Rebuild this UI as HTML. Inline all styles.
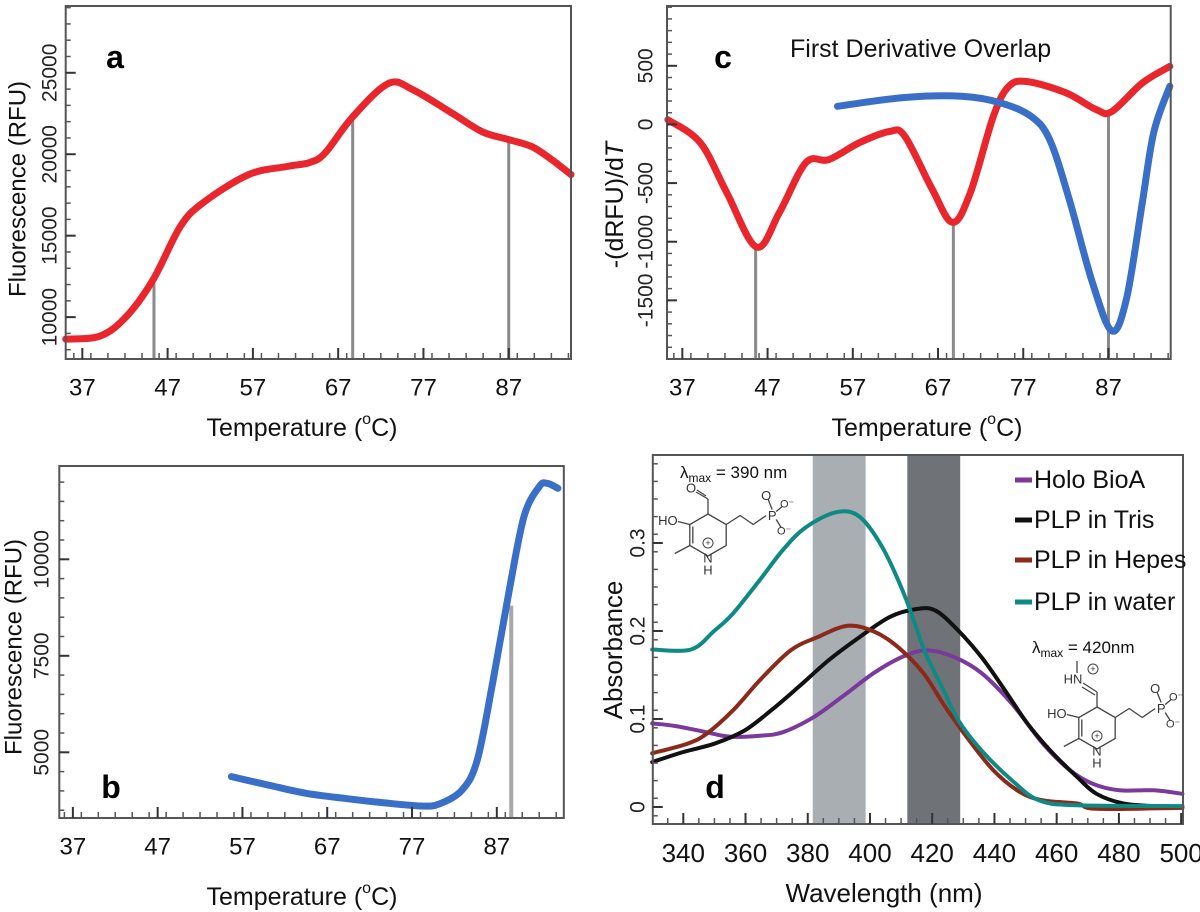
<!DOCTYPE html>
<html><head><meta charset="utf-8"><style>
body{margin:0;background:#fff;}
svg{display:block;font-family:"Liberation Sans",sans-serif;}
</style></head><body>
<svg id="fig" width="1200" height="912" viewBox="0 0 1200 912" xmlns="http://www.w3.org/2000/svg">
<g id="pa"></g>
<g id="pb"></g>
<g id="pc"></g>
<g id="pd"></g>
</svg>
<script>
// ---- Panel a data ----
const aTemps=[35.05,39.1,42.2,45.3,48.5,51.2,56.5,61,63.7,65.5,68.7,72.9,75.8,80.3,83.9,87.0,89.7,92,94.3];
const aValues=[8650,8840,10060,12300,15570,17040,18750,19250,19500,20100,22300,24350,23950,22540,21380,20900,20470,19680,18750];
const aMarkerT=[45.4,68.7,87.0];
const aMarkerTop=[12300,22200,20900];
const aXTicks=[37,47,57,67,77,87];
const aYTicks=[10000,15000,20000,25000];
// ---- Panel b data ----
const bTemps=[55.7,60.0,64.5,69.0,73.5,78.0,80.2,82.9,84.7,86.5,88.4,90.2,92.0,92.9,94.2];
const bValues=[4370,4154,3938,3808,3696,3610,3661,4024,4800,6790,9120,11100,11880,11970,11840];
const bMarkerT=[88.7];
const bMarkerTop=[8800];
const bYTicks=[5000,7500,10000];
// ---- Panel c data ----
const cRedT=[35.3,39.1,42.2,45.7,48.4,51.5,54.2,57.8,61.3,63.1,66.3,68.7,70.8,73.5,75.3,77.5,82,85.6,87.4,91,94.2];
const cRedV=[40,-155,-580,-1045,-750,-325,-300,-155,-60,-100,-550,-835,-580,70,325,365,270,125,110,355,495];
const cBlueT=[55.2,63.1,69.8,74.3,77.9,80.1,82.4,85.1,87.4,89.1,90.9,92.3,94.2];
const cBlueV=[155,230,240,185,70,-130,-640,-1345,-1760,-1490,-700,-70,325];
const cMarkerT=[45.6,68.8,87.0];
const cMarkerTop=[-1045,-835,110];
const cYTicks=[-1500,-1000,-500,0,500];
// ---- Panel d data ----
const dTicksX=[340,360,380,400,420,440,460,480,500];
const dTicksY=[0,0.1,0.2,0.3];
const dBands=[[381.6,398.6],[412,429]];
const waterNm=[330,342.5,349.9,356,364.6,372,379.4,389.2,396.6,404,411.3,417.5,423.6,428.5,435.9,445.7,454.3,466.6,500.4];
const waterAbs=[.179,.179,.2,.22,.258,.292,.318,.335,.33,.295,.239,.178,.133,.098,.064,.030,.0076,.002,.001];
const trisNm=[330,340,350,359.7,368.3,376.9,386.8,396.6,406.4,415,421.2,428.5,435.9,443.3,450.6,458,466.6,472.8,481.4,491.2,500.4];
const trisAbs=[.051,.0625,.072,.087,.11,.136,.167,.193,.216,.225,.223,.2,.17,.133,.095,.064,.034,.015,.004,.001,0];
const hepesNm=[330,341.3,347.4,356,364.6,374.5,383.1,392.9,401.5,408.9,417.2,423.6,431,439.6,448.2,455.6,466.6,472.8,500.4];
const hepesAbs=[.061,.072,.083,.11,.144,.178,.193,.206,.199,.182,.152,.117,.08,.042,.017,.0076,.004,-.002,-.001];
const holoNm=[330,337.6,347.4,354.8,364.6,372,381.8,391.7,401.5,411.3,418.7,427.3,435.9,445.7,455.6,464.2,471.5,480.1,491.2,500.4];
const holoAbs=[.095,.092,.085,.08,.081,.085,.102,.127,.153,.172,.178,.170,.152,.117,.072,.042,.0265,.019,.019,.015];
const legendLabels=["Holo BioA","PLP in Tris","PLP in Hepes","PLP in water"];

const NS="http://www.w3.org/2000/svg";
function mk(parent,tag,attrs,text){const e=document.createElementNS(NS,tag);for(const k in attrs)e.setAttribute(k,attrs[k]);if(text!==undefined)e.textContent=text;parent.appendChild(e);return e;}
function lin(d0,d1,r0,r1){return v=>r0+(v-d0)/(d1-d0)*(r1-r0);}
function smooth(pts){let d="M"+pts[0][0].toFixed(1)+","+pts[0][1].toFixed(1);for(let i=0;i<pts.length-1;i++){const p0=pts[i-1]||pts[i],p1=pts[i],p2=pts[i+1],p3=pts[i+2]||p2;const c1=[p1[0]+(p2[0]-p0[0])/6,p1[1]+(p2[1]-p0[1])/6],c2=[p2[0]-(p3[0]-p1[0])/6,p2[1]-(p3[1]-p1[1])/6];d+="C"+c1.map(v=>v.toFixed(1))+" "+c2.map(v=>v.toFixed(1))+" "+p2.map(v=>v.toFixed(1));}return d;}
function frame(g,x0,y0,x1,y1){const r=mk(g,'rect',{x:x0,y:y0,width:x1-x0,height:y1-y0,fill:'none',stroke:'#555',"stroke-width":2});}
function xTicks(g,sx,yb,minors,majors,labY,labels,fs){
  minors.forEach(v=>{const t=mk(g,'line',{x1:sx(v),x2:sx(v),y1:yb,y2:yb-6,stroke:'#555',"stroke-width":1.5});});
  majors.forEach((v,i)=>{const t=mk(g,'line',{x1:sx(v),x2:sx(v),y1:yb,y2:yb-11,stroke:'#333',"stroke-width":2});
    const l=mk(g,'text',{x:sx(v),y:labY,"font-size":fs||24,"text-anchor":"middle","dominant-baseline":"central",fill:'#111'},labels[i]);});
}
function yTicks(g,sy,xl,minors,majors,labX,labels){
  minors.forEach(v=>{const t=mk(g,'line',{x1:xl,x2:xl+5,y1:sy(v),y2:sy(v),stroke:'#555',"stroke-width":1.5});});
  majors.forEach((v,i)=>{const t=mk(g,'line',{x1:xl,x2:xl+10,y1:sy(v),y2:sy(v),stroke:'#333',"stroke-width":2});
    const l=mk(g,'text',{x:labX,y:sy(v),"font-size":21,"text-anchor":"middle","dominant-baseline":"central",fill:'#222',transform:`rotate(-90 ${labX} ${sy(v)})`},labels[i]);});
}
function range(a,b,s){const r=[];for(let v=a;v<=b+1e-9;v+=s)r.push(+v.toFixed(4));return r;}
function title(g,x,y,txt,rot,size,name){const t=mk(g,'text',{x:x,y:y,"font-size":size,"text-anchor":"middle","dominant-baseline":"central",fill:'#111',transform:rot?`rotate(-90 ${x} ${y})`:''},txt);return t;}
function letter(g,x,y,ch,name){const t=mk(g,'text',{x:x,y:y,"font-size":32,"font-weight":"bold","text-anchor":"middle",fill:'#000'},ch);}
function markers(g,sx,sy,ts,tops,yb,col,w,name){ts.forEach((t,i)=>{const l=mk(g,'line',{x1:sx(t),x2:sx(t),y1:sy(tops[i]),y2:yb,stroke:col,"stroke-width":w});});}
function curve(g,xs,ys,sx,sy,col,w,name){const p=mk(g,'path',{d:smooth(xs.map((x,i)=>[sx(x),sy(ys[i])])),fill:'none',stroke:col,"stroke-width":w,"stroke-linecap":"round","stroke-linejoin":"round"});}
const tLabels=aXTicks.map(String);
const tempHTML='Temperature (<tspan font-size="16" dy="-9">o</tspan><tspan dy="9">C)</tspan>';

// ===== Panel a =====
(function(){const g=document.getElementById('pa');const X0=65.7,X1=571,Y0=6,Y1=359;
const sx=lin(35.05,94.3,X0,X1),sy=lin(7430,29100,Y1,Y0);
markers(g,sx,sy,aMarkerT,aMarkerTop,Y1,'#8a8a8a',3,'melt-marker');
curve(g,aTemps,aValues,sx,sy,'#e8262b',7,'fluorescence-curve-red');
frame(g,X0,Y0,X1,Y1);
xTicks(g,sx,Y1,range(36,94,2),aXTicks,388,tLabels);
yTicks(g,sy,X0,range(8000,29000,1000),aYTicks,50,aYTicks.map(String));
title(g,18,189,"Fluorescence (RFU)",true,24,'y-axis-title');
const xt=title(g,302,428,"",false,25,'x-axis-title');xt.innerHTML=tempHTML;
letter(g,115,68,'a','panel-label-a');})();

// ===== Panel b =====
(function(){const g=document.getElementById('pb');const X0=59.3,X1=563.8,Y0=466,Y1=818;
const sx=lin(35.4,94.9,X0,X1),sy=lin(3298,12417,Y1,Y0);
markers(g,sx,sy,bMarkerT,bMarkerTop,Y1,'#a8a8a8',4,'melt-marker');
curve(g,bTemps,bValues,sx,sy,'#3a6fc8',7,'fluorescence-curve-blue');
frame(g,X0,Y0,X1,Y1);
xTicks(g,sx,Y1,range(36,94,2),aXTicks,847,tLabels);
yTicks(g,sy,X0,range(3500,12000,500),bYTicks,42,bYTicks.map(String));
title(g,14,647,"Fluorescence (RFU)",true,24,'y-axis-title');
const xt=title(g,302,897,"",false,25,'x-axis-title');xt.innerHTML=tempHTML;
letter(g,111,798,'b','panel-label-b');})();

// ===== Panel c =====
(function(){const g=document.getElementById('pc');const X0=667,X1=1170.7,Y0=6,Y1=359;
const sx=lin(35.2,94.3,X0,X1),sy=lin(-2000,1010,Y1,Y0);
markers(g,sx,sy,cMarkerT,cMarkerTop,Y1,'#8a8a8a',3,'melt-marker');
curve(g,cRedT,cRedV,sx,sy,'#e8262b',7,'derivative-curve-red');
curve(g,cBlueT,cBlueV,sx,sy,'#3a6fc8',7,'derivative-curve-blue');
frame(g,X0,Y0,X1,Y1);
xTicks(g,sx,Y1,range(36,94,2),aXTicks,388,tLabels);
yTicks(g,sy,X0,range(-1900,1000,100),cYTicks,646,cYTicks.map(String));
const yt=title(g,615,205,"",true,25,'y-axis-title');yt.innerHTML='-(dRFU)/d<tspan font-style="italic">T</tspan>';
const xt=title(g,927,428,"",false,25,'x-axis-title');xt.innerHTML=tempHTML;
const ct=mk(g,'text',{x:790,y:57,"font-size":25,fill:'#111'},"First Derivative Overlap");
letter(g,723,68,'c','panel-label-c');})();

// ===== Panel d =====
(function(){const g=document.getElementById('pd');const X0=652.8,X1=1183,Y0=455,Y1=824;
const sx=lin(330.2,500.6,X0,X1),sy=lin(-0.0193,0.4,Y1,Y0);
const bandCols=['#a9aeb3','#6f7378'];
dBands.forEach((b,i)=>{const r=mk(g,'rect',{x:sx(b[0]),y:Y0,width:sx(b[1])-sx(b[0]),height:Y1-Y0,fill:bandCols[i]});});
curve(g,holoNm,holoAbs,sx,sy,'#7b3a9b',4,'series-holo-bioa');
curve(g,trisNm,trisAbs,sx,sy,'#111111',4,'series-plp-tris');
curve(g,hepesNm,hepesAbs,sx,sy,'#8b2a1a',4,'series-plp-hepes');
curve(g,waterNm,waterAbs,sx,sy,'#0e8a84',4,'series-plp-water');
frame(g,X0,Y0,X1,Y1);
xTicks(g,sx,Y1,range(335,500,5),dTicksX,853,dTicksX.map(String),26);
yTicks(g,sy,X0,range(-0.01,0.39,0.02).filter(v=>v>-0.015),dTicksY,638,["0","0.1","0.2","0.3"]);
title(g,613,650,"Absorbance",true,26,'y-axis-title');
title(g,884,893,"Wavelength (nm)",false,26,'x-axis-title');
const lcols=['#7b3a9b','#111111','#8b2a1a','#0e8a84'];const ly=[480,520,560,602];
legendLabels.forEach((s,i)=>{const l=mk(g,'line',{x1:1015,x2:1032,y1:ly[i],y2:ly[i],stroke:lcols[i],"stroke-width":5});
 const t=mk(g,'text',{x:1034,y:ly[i],"font-size":25,"dominant-baseline":"central",fill:'#111'},s);});
const l1=mk(g,'text',{x:680,y:478,"font-size":17,fill:'#111'},"");l1.innerHTML='λ<tspan font-size="12" dy="4">max</tspan><tspan dy="-4"> = 390 nm</tspan>';
const l2=mk(g,'text',{x:1032,y:653,"font-size":17,fill:'#111'},"");l2.innerHTML='λ<tspan font-size="12" dy="4">max</tspan><tspan dy="-4"> = 420nm</tspan>';
letter(g,715,798,'d','panel-label-d');
function mol(cx,cy,r,imine,name){const s=mk(g,'g',{stroke:'#444',"stroke-width":1.3,fill:'none'});
 const v=[];for(let k=0;k<6;k++){const a=-Math.PI/2+k*Math.PI/3;v.push([cx+r*Math.cos(a),cy+r*Math.sin(a)]);}
 mk(s,'polygon',{points:v.map(p=>p.join(',')).join(' ')});
 mk(s,'line',{x1:v[5][0]+3,y1:v[5][1]+2,x2:v[4][0]+3,y2:v[4][1]-2});
 mk(s,'line',{x1:v[0][0],y1:v[0][1],x2:v[0][0],y2:v[0][1]-15});
 if(imine){mk(s,'line',{x1:v[0][0],y1:v[0][1]-15,x2:v[0][0]-14,y2:v[0][1]-24});mk(s,'line',{x1:v[0][0]-2,y1:v[0][1]-12,x2:v[0][0]-15,y2:v[0][1]-20});mk(s,'line',{x1:v[0][0]-20,y1:v[0][1]-34,x2:v[0][0]-20,y2:v[0][1]-46});}
 else{mk(s,'line',{x1:v[0][0],y1:v[0][1]-15,x2:v[0][0]-12,y2:v[0][1]-22});mk(s,'line',{x1:v[0][0]-2,y1:v[0][1]-18,x2:v[0][0]-11,y2:v[0][1]-24});}
 mk(s,'line',{x1:v[5][0],y1:v[5][1],x2:v[5][0]-12,y2:v[5][1]-3});
 mk(s,'line',{x1:v[4][0],y1:v[4][1],x2:v[4][0]-15,y2:v[4][1]+8});
 mk(s,'polyline',{points:`${v[1][0]},${v[1][1]} ${v[1][0]+14},${v[1][1]-9} ${v[1][0]+27},${v[1][1]} ${v[1][0]+40},${v[1][1]-9}`});
 const px=v[1][0]+46,py=v[1][1]-9;
 mk(s,'line',{x1:px+4,y1:py-4,x2:px+10,y2:py-9});mk(s,'line',{x1:px,y1:py-6,x2:px-4,y2:py-16});mk(s,'line',{x1:px+4,y1:py+4,x2:px+9,y2:py+12});
 const tx=(x,y,t,sz)=>mk(s,'text',{x:x,y:y,"font-size":sz||13,fill:'#333',stroke:'none',"text-anchor":"middle","dominant-baseline":"central"},t);
 tx(px,py,'P');tx(px-6,py-20,'O');tx(px+15,py-11,'O⁻',11);tx(px+12,py+16,'O⁻',11);
 tx(v[5][0]-22,v[5][1]-4,'HO');tx(cx,cy+r+2,'N');tx(cx,cy+r+14,'H');
 mk(s,'circle',{cx:cx,cy:cy+r-13,r:5,"stroke-width":1});tx(cx,cy+r-13,'+',9);
 if(imine){tx(v[0][0]-24,v[0][1]-28,'HN');mk(s,'circle',{cx:v[0][0]-4,cy:v[0][1]-38,r:5,"stroke-width":1});tx(v[0][0]-4,v[0][1]-38,'+',9);}
 else tx(v[0][0]-17,v[0][1]-26,'O');
}
mol(708,535,21,false,'plp-structure-aldehyde');
mol(1097,728,21,true,'plp-structure-imine');
})();
</script>
</body></html>
